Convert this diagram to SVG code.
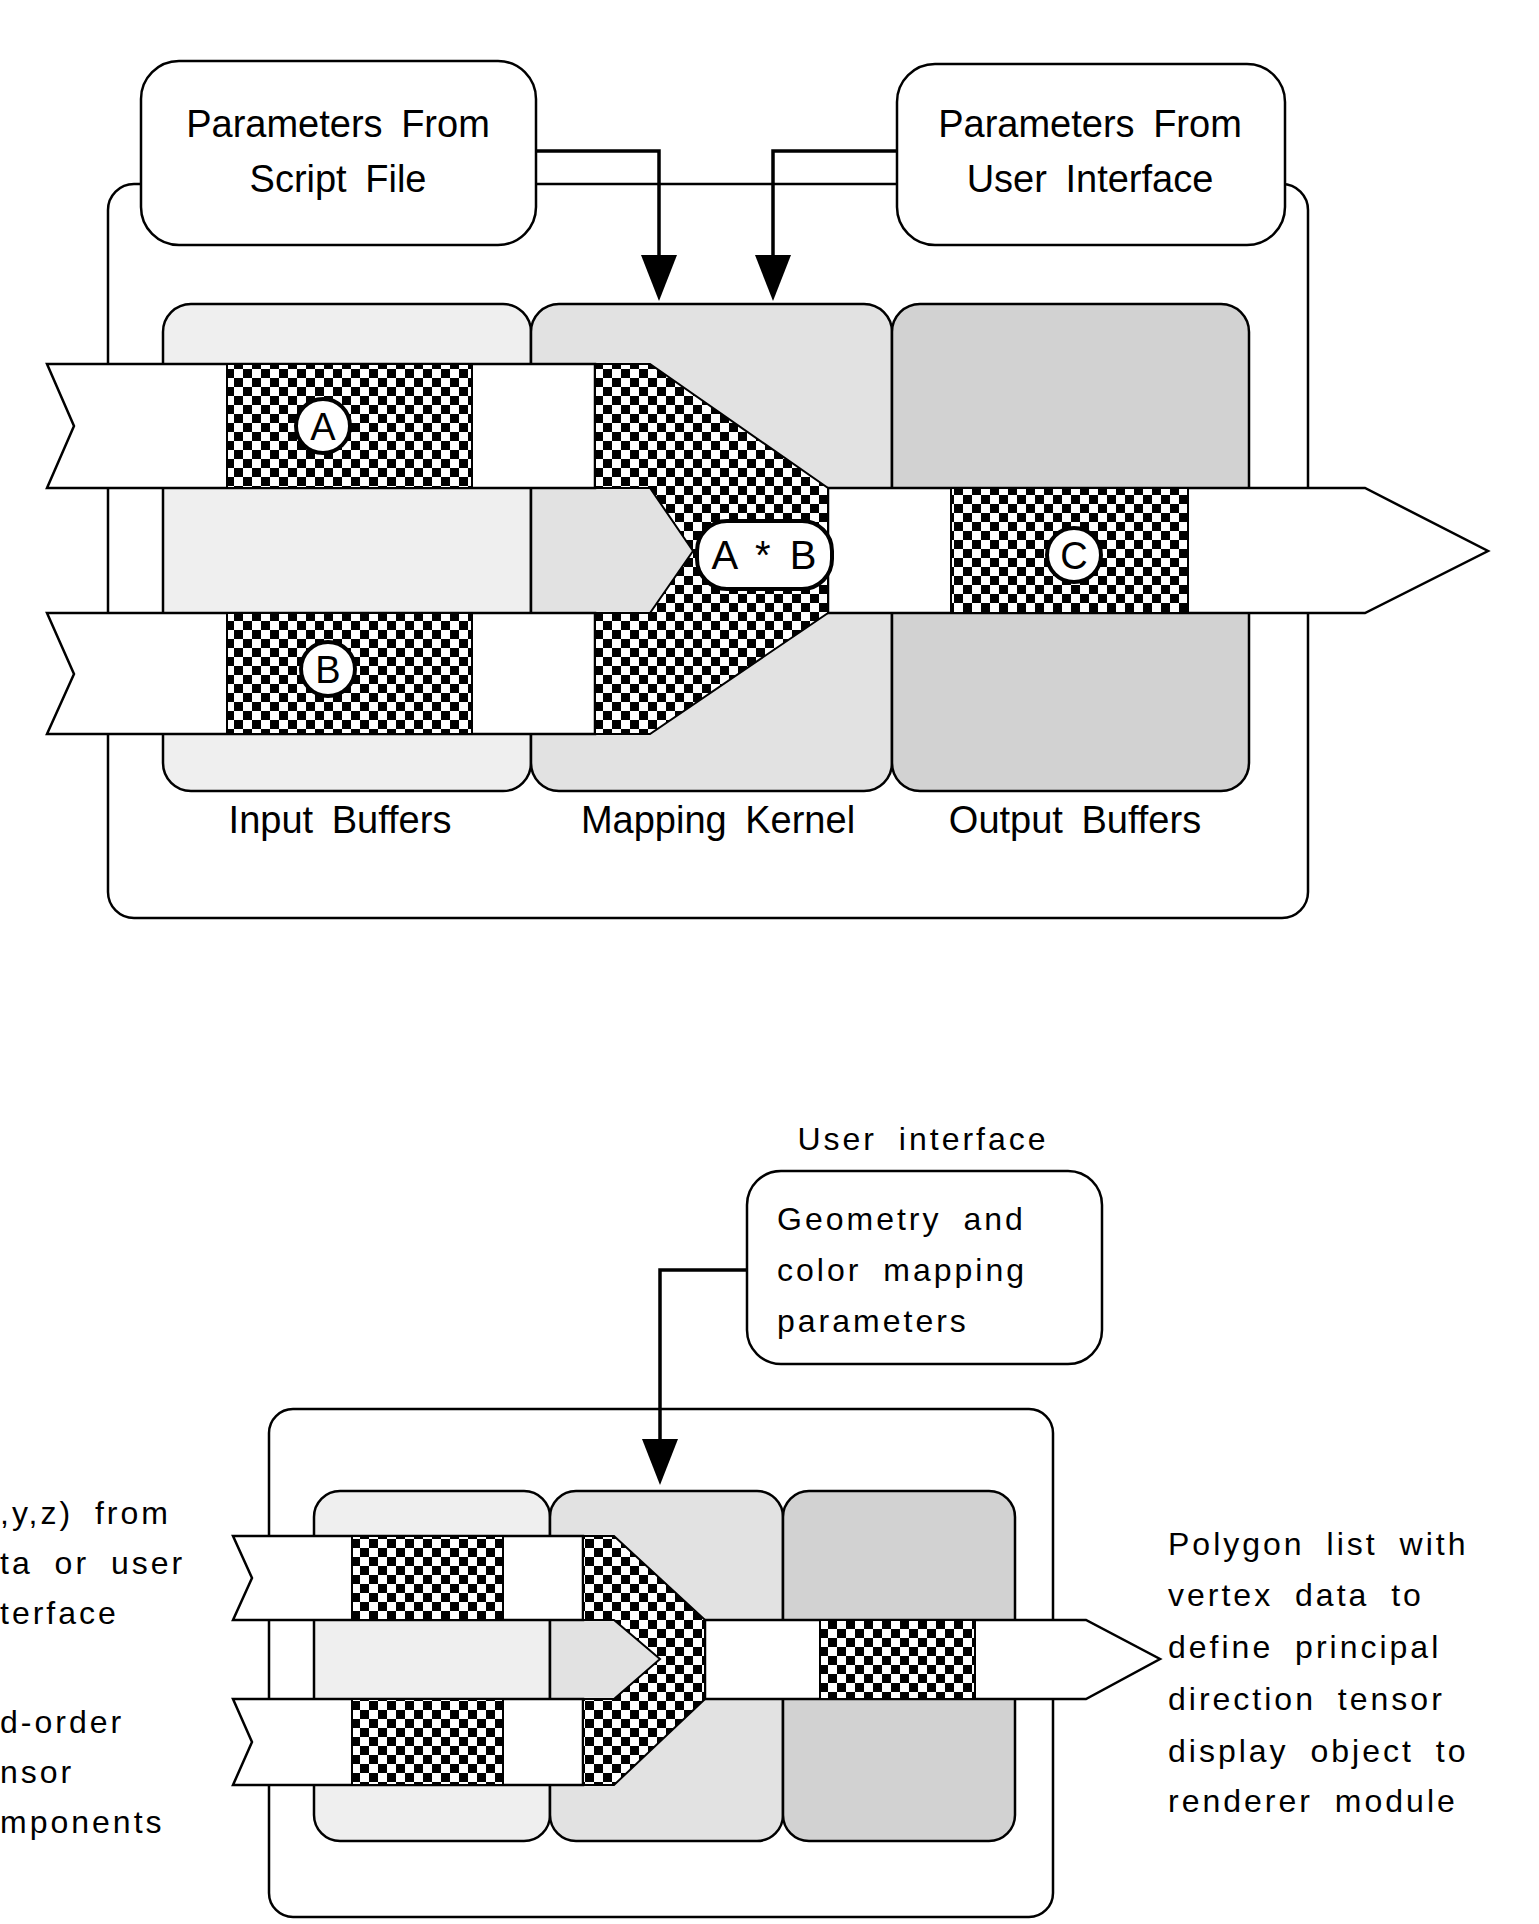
<svg xmlns="http://www.w3.org/2000/svg" width="1539" height="1924" viewBox="0 0 1539 1924">
<defs>
<pattern id="chk" width="18" height="18" patternUnits="userSpaceOnUse"><rect width="18" height="18" fill="#fff"/><rect width="9" height="9" fill="#000"/><rect x="9" y="9" width="9" height="9" fill="#000"/></pattern>
</defs>
<style>
.b{fill:#fff;stroke:#000;stroke-width:2.5}
.p1{fill:#efefef;stroke:#000;stroke-width:2.5}
.p2{fill:#e2e2e2;stroke:#000;stroke-width:2.5}
.p3{fill:#d2d2d2;stroke:#000;stroke-width:2.5}
.w{fill:#fff;stroke:#000;stroke-width:2.5}
.c{fill:url(#chk);stroke:#000;stroke-width:2}
.t{font-family:"Liberation Sans",Arial,sans-serif;font-size:38px;fill:#000;word-spacing:8px}
.s{font-family:"Liberation Sans",Arial,sans-serif;font-size:32px;fill:#000;letter-spacing:3px;word-spacing:10px}
.ln{fill:none;stroke:#000;stroke-width:3.5}
.ah{fill:#000;stroke:none}
.ci{fill:#fff;stroke:#000;stroke-width:4}
</style>
<g id="top-frame"><rect class="b" x="108" y="184" width="1200" height="734" rx="26"/></g>
<g id="script-file"><rect class="b" x="141" y="61" width="395" height="184" rx="38"/>
<text class="t" x="338" y="137" text-anchor="middle">Parameters From</text><text class="t" x="338" y="192" text-anchor="middle">Script File</text></g>
<g id="user-params"><rect class="b" x="897" y="64" width="388" height="181" rx="38"/>
<text class="t" x="1090" y="137" text-anchor="middle">Parameters From</text><text class="t" x="1090" y="192" text-anchor="middle">User Interface</text></g>
<g id="input-buffers"><rect class="p1" x="163" y="304" width="368" height="487" rx="28"/><text class="t" x="340" y="833" text-anchor="middle">Input Buffers</text></g>
<g id="mapping-kernel"><rect class="p2" x="531" y="304" width="361" height="487" rx="28"/><text class="t" x="718" y="833" text-anchor="middle">Mapping Kernel</text></g>
<g id="output-buffers"><rect class="p3" x="892" y="304" width="357" height="487" rx="28"/><text class="t" x="1075" y="833" text-anchor="middle">Output Buffers</text></g>
<g id="bands-top">
<path class="w" d="M47,364 L595,364 L595,488 L47,488 L74,426 Z"/>
<path class="w" d="M47,613 L595,613 L595,734 L47,734 L74,674 Z"/>
<path class="w" d="M828,488 L1365,488 L1488,551 L1365,613 L828,613 Z"/>
<rect class="c" x="227" y="364" width="245" height="124"/>
<rect class="c" x="227" y="613" width="245" height="121"/>
<path class="c" d="M595,364 L650,364 L828,488 L828,613 L650,734 L595,734 L595,613 L650,613 L693,551 L650,488 L595,488 Z"/>
<rect class="c" x="951" y="488" width="237" height="125"/>
<circle class="ci" cx="323" cy="426" r="27"/><text class="t" x="323" y="440" text-anchor="middle">A</text>
<circle class="ci" cx="328" cy="669" r="27"/><text class="t" x="328" y="683" text-anchor="middle">B</text>
<circle class="ci" cx="1074" cy="555" r="27"/><text class="t" x="1074" y="569" text-anchor="middle">C</text>
<rect class="ci" x="697" y="521" width="135" height="68" rx="30"/><text class="t" x="764" y="569" text-anchor="middle" style="font-size:40px">A * B</text>
</g>
<g id="ui-label"><text class="s" x="923" y="1150" text-anchor="middle">User interface</text></g>
<g id="geom-params"><rect class="b" x="747" y="1171" width="355" height="193" rx="34"/>
<text class="s" x="777" y="1230">Geometry and</text><text class="s" x="777" y="1281">color mapping</text><text class="s" x="777" y="1332">parameters</text></g>
<g id="bottom-frame"><rect class="b" x="269" y="1409" width="784" height="508" rx="24"/></g>
<g id="bot-input"><rect class="p1" x="314" y="1491" width="236" height="350" rx="26"/></g>
<g id="bot-mapping"><rect class="p2" x="550" y="1491" width="233" height="350" rx="26"/></g>
<g id="bot-output"><rect class="p3" x="783" y="1491" width="232" height="350" rx="26"/></g>
<g id="bands-bottom">
<path class="w" d="M233,1536 L583,1536 L583,1620 L233,1620 L252,1578 Z"/>
<path class="w" d="M233,1699 L583,1699 L583,1785 L233,1785 L252,1742 Z"/>
<path class="w" d="M705,1620 L1086,1620 L1160,1659 L1086,1699 L705,1699 Z"/>
<rect class="c" x="352" y="1536" width="151" height="84"/>
<rect class="c" x="352" y="1699" width="151" height="86"/>
<path class="c" d="M583,1536 L614,1536 L705,1620 L705,1699 L614,1785 L583,1785 L583,1699 L614,1699 L660,1659 L614,1620 L583,1620 Z"/>
<rect class="c" x="820" y="1620" width="155" height="79"/>
</g>
<g id="connectors">
<path class="ln" d="M536,151 L659,151 L659,258"/><path class="ah" d="M641,255 L677,255 L659,301 Z"/>
<path class="ln" d="M897,151 L773,151 L773,258"/><path class="ah" d="M755,255 L791,255 L773,301 Z"/>
<path class="ln" d="M747,1270 L660,1270 L660,1442"/><path class="ah" d="M642,1439 L678,1439 L660,1485 Z"/>
</g>
<g id="left-text">
<text class="s" x="0" y="1524">,y,z) from</text>
<text class="s" x="0" y="1574">ta or user</text>
<text class="s" x="0" y="1624">terface</text>
<text class="s" x="0" y="1733">d-order</text>
<text class="s" x="0" y="1783">nsor</text>
<text class="s" x="0" y="1833">mponents</text>
</g>
<g id="right-text">
<text class="s" x="1168" y="1555">Polygon list with</text>
<text class="s" x="1168" y="1606">vertex data to</text>
<text class="s" x="1168" y="1658">define principal</text>
<text class="s" x="1168" y="1710">direction tensor</text>
<text class="s" x="1168" y="1762">display object to</text>
<text class="s" x="1168" y="1812">renderer module</text>
</g>
</svg>
